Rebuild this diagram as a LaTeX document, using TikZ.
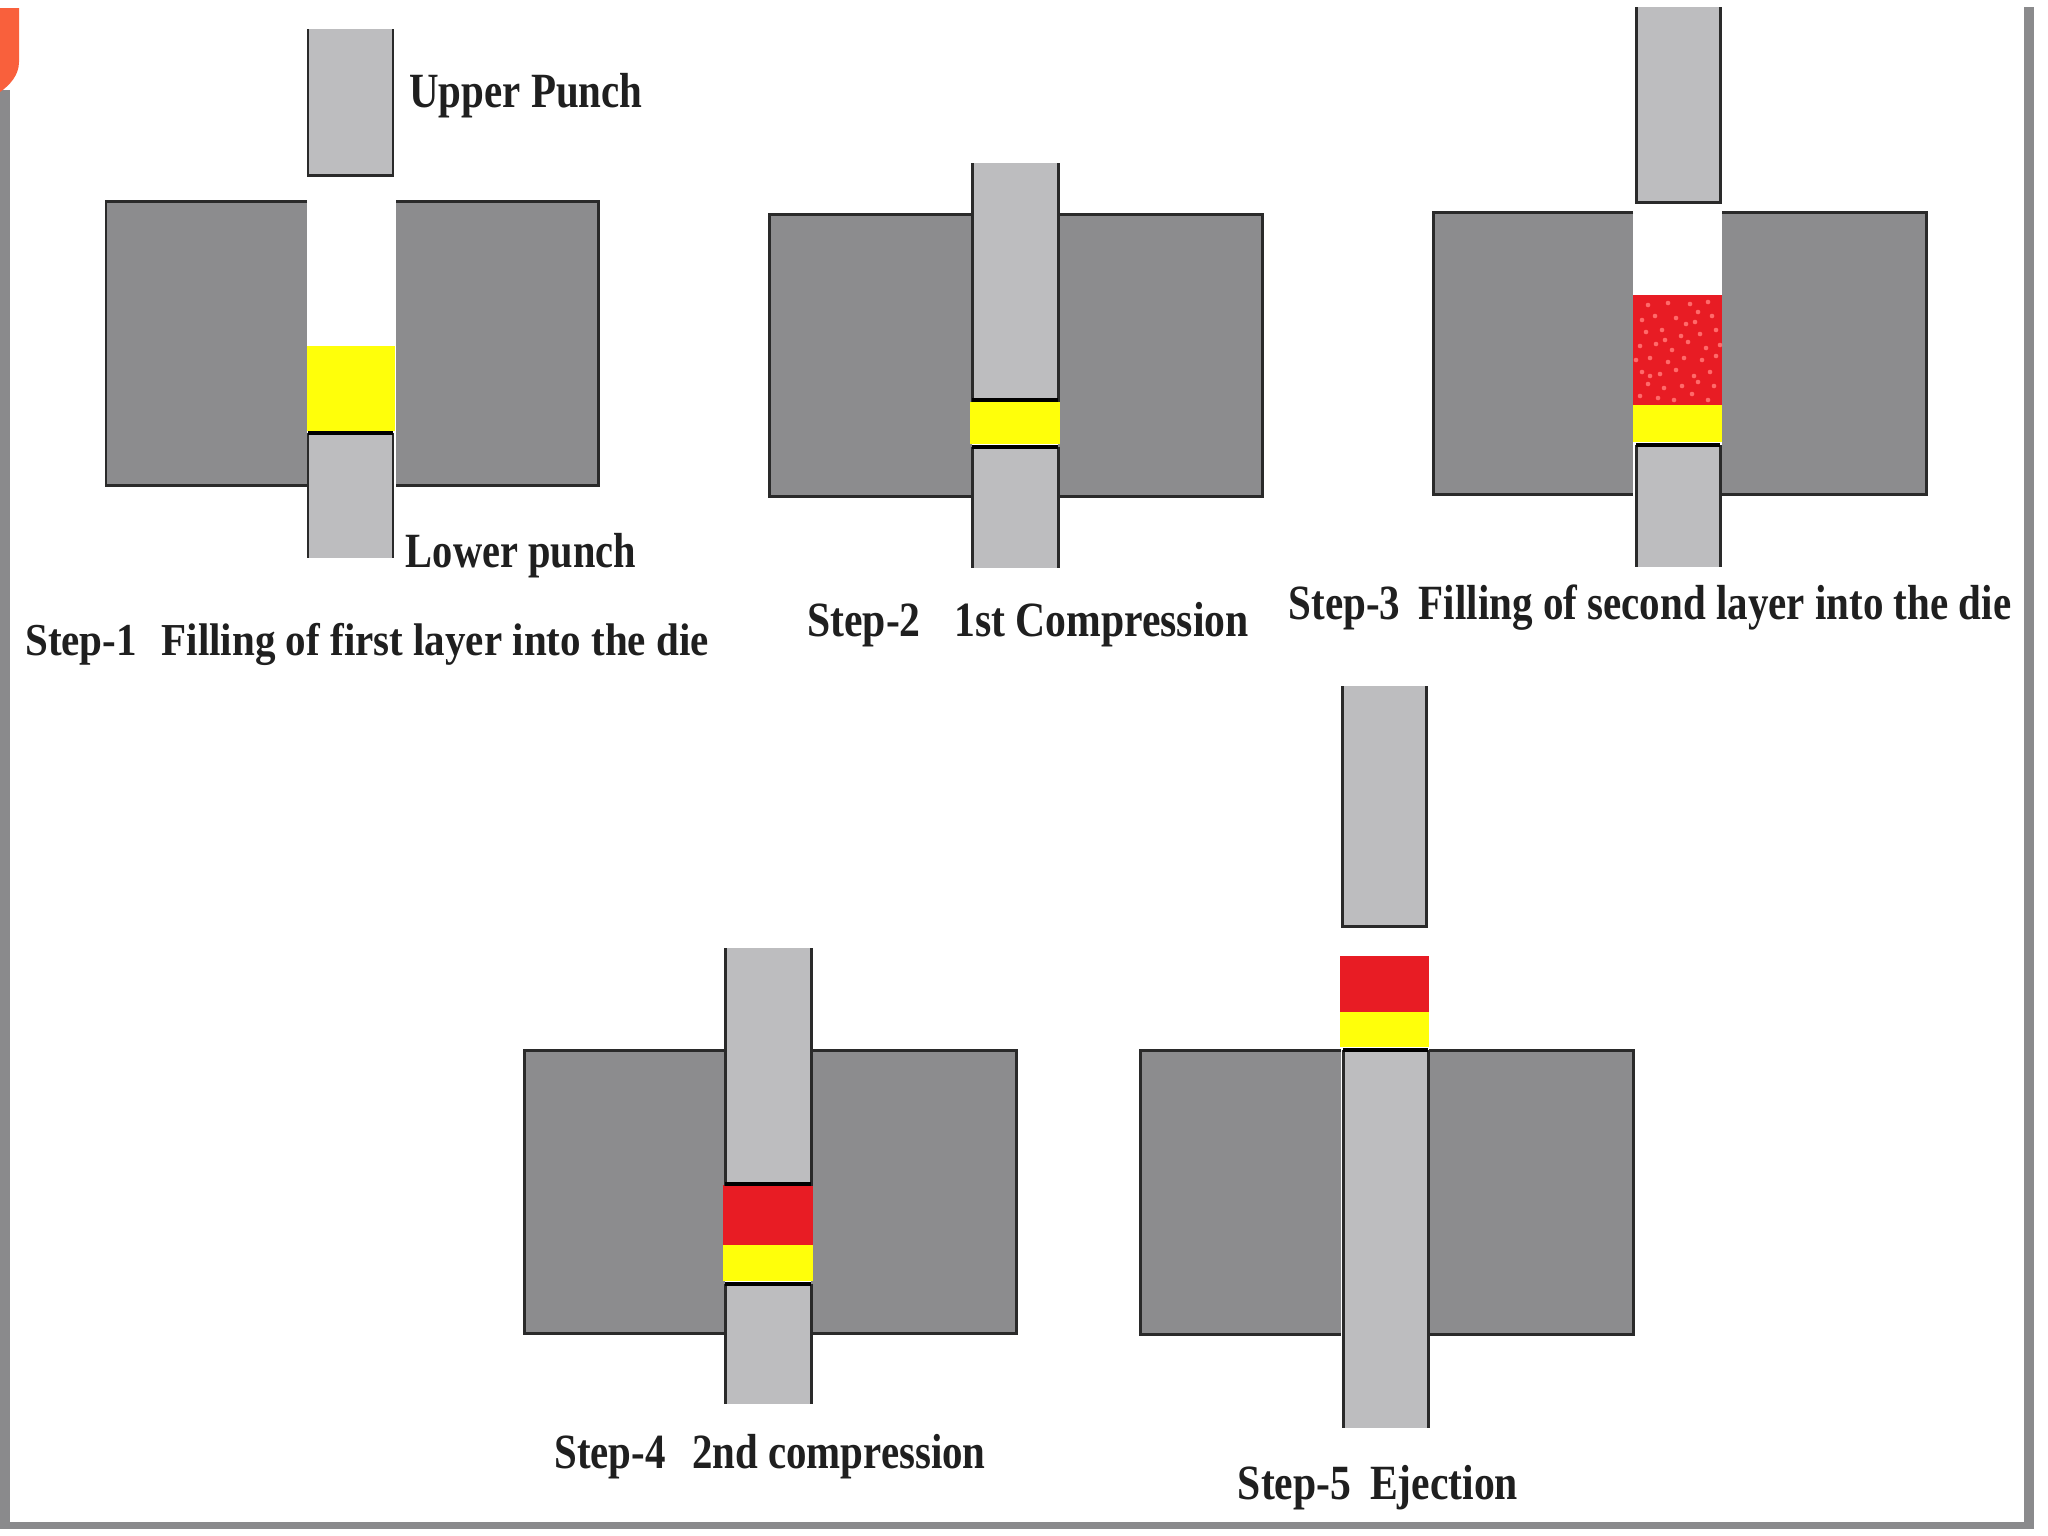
\documentclass[tikz,border=0pt]{standalone}
\usepackage{fontspec}
\setmainfont{Liberation Serif}
\newcommand{\fitw}[3]{\resizebox{#2\dimexpr 0.1mm\relax}{\height}{\fontsize{#1pt}{16pt}\selectfont\bfseries #3}}
\definecolor{diegray}{HTML}{8C8C8E}
\definecolor{punchgray}{HTML}{BDBDBF}
\definecolor{layerY}{HTML}{FFFF0A}
\definecolor{layerR}{HTML}{E81C24}
\definecolor{edgeK}{HTML}{2A2A2A}
\definecolor{barG}{HTML}{8A8A8C}
\definecolor{tabO}{HTML}{F9603C}
\definecolor{speck}{HTML}{FF6A6A}
\tikzset{
  edgeline/.style={draw=edgeK,line width=0.85pt,line cap=butt,line join=miter},
  heavyline/.style={draw=black,line width=1.3pt},
  lab/.style={inner sep=0pt,outer sep=0pt,text=black!88}
}
% die: x1 xi1 xi2 x2 y1 y2
\newcommand{\diepair}[6]{
  \fill[diegray] (#1,#5) rectangle (#2,#6);
  \fill[diegray] (#3,#5) rectangle (#4,#6);
  \draw[edgeline] (#2,#5)--(#1,#5)--(#1,#6)--(#2,#6);
  \draw[edgeline] (#3,#5)--(#4,#5)--(#4,#6)--(#3,#6);
}
% upper punch: x1 x2 y1 y2
\newcommand{\upunch}[4]{
  \fill[punchgray] (#1,#3) rectangle (#2,#4);
  \draw[edgeline] (#1,#3)--(#1,#4)--(#2,#4)--(#2,#3);
}
% upper punch pressed on the layer: heavier lower edge
\newcommand{\upress}[4]{
  \upunch{#1}{#2}{#3}{#4}
  \draw[heavyline] (#1,#4)--(#2,#4);
}
% lower punch: x1 x2 y1 y2
\newcommand{\lpunch}[4]{
  \fill[punchgray] (#1,#3) rectangle (#2,#4);
  \draw[edgeline] (#1,#3)--(#1,#4) (#2,#3)--(#2,#4);
  \draw[heavyline] (#1,#3)--(#2,#3);
}
\begin{document}
\begin{tikzpicture}[x=0.01cm,y=-0.01cm]
\useasboundingbox (0,0) rectangle (2048,1536);
\fill[white] (0,0) rectangle (2048,1536);
% frame
\fill[barG] (0,90) rectangle (10,1529);
\fill[barG] (0,1522) rectangle (2034,1529);
\fill[barG] (2024,7) rectangle (2034,1529);
\fill[tabO] (0,8) -- (19,8) -- (19,62) .. controls (19,75) and (10,85) .. (0,92) -- cycle;

% step 1
\diepair{106}{307}{396}{598}{201}{485}
\fill[layerY] (307,346) rectangle (395,431);
\upunch{308}{393}{29}{175}
\lpunch{308}{393}{433}{558}

% step 2
\diepair{769}{972}{1058}{1262}{214}{496}
\fill[layerY] (970,402) rectangle (1060,444);
\upress{972}{1058}{163}{400}
\lpunch{972}{1058}{447}{568}

% step 3
\diepair{1433}{1633}{1722}{1926}{212}{494}
\fill[layerR] (1633,295) rectangle (1722,405);
\foreach \sx/\sy in {
1648/305,1668/303,1690/304,1708/302,1642/320,1655/316,1676/318,1695/322,1712/316,
1646/332,1662/330,1681/336,1700/334,1716/330,1640/346,1656/344,1672/350,1688/342,1706/348,
1650/358,1668/362,1684/358,1702/360,1716/356,1642/372,1660/374,1676/370,1694/376,1710/372,
1648/384,1664/388,1682/386,1698/382,1714/386,1640/396,1658/398,1674/400,1692/394,1708/400,
1720/345,1636/360,1665/340,1698/312,1650/376,1686/324}{
  \fill[speck] (\sx,\sy) circle (2.3);
}
\fill[layerY] (1633,405) rectangle (1722,442);
\upunch{1636}{1720}{7}{202}
\lpunch{1636}{1720}{445}{567}

% step 4
\diepair{524}{725}{811}{1016}{1050}{1333}
\fill[layerR] (723,1185) rectangle (813,1245);
\fill[layerY] (723,1245) rectangle (813,1281);
\upress{725}{811}{948}{1184}
\lpunch{725}{811}{1284}{1404}

% step 5
\diepair{1140}{1341}{1429}{1633}{1050}{1334}
\fill[layerR] (1340,956) rectangle (1429,1012);
\fill[layerY] (1340,1012) rectangle (1429,1047);
\upunch{1342}{1426}{686}{926}
\lpunch{1343}{1428}{1050}{1428}

% labels
\node[lab] (upperlab) at (526,96) {\fitw{14}{233}{Upper Punch}};
\node[lab] (lowerlab) at (521,556) {\fitw{14}{230}{Lower punch}};
\node[lab] (s1) at (367,644) {\fitw{13}{683}{Step-1\hspace{0.6em}Filling of first layer into the die}};
\node[lab] (s2) at (1028,625) {\fitw{14}{441}{Step-2\hspace{0.8em}1st Compression}};
\node[lab] (s3) at (1650,608) {\fitw{14}{722}{Step-3\hspace{0.2em} Filling of second layer into the die}};
\node[lab] (s4) at (770,1457) {\fitw{14}{431}{Step-4\hspace{0.4em} 2nd compression}};
\node[lab] (s5) at (1378,1488) {\fitw{14}{280}{Step-5\hspace{0.2em} Ejection}};
\end{tikzpicture}
\end{document}
